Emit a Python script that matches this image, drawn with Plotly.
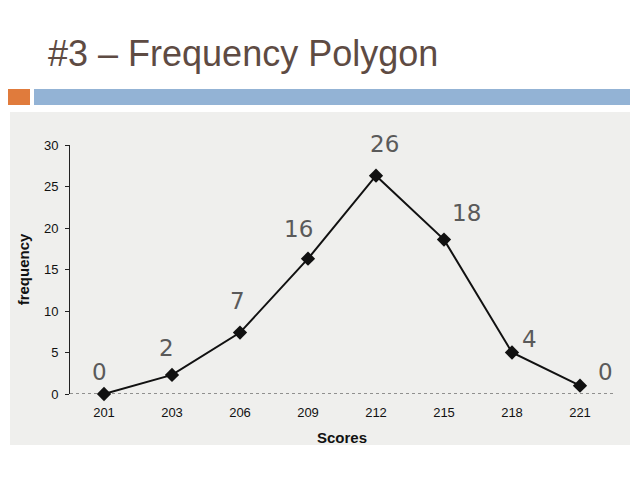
import plotly.graph_objects as go

# Data
scores = ["201", "203", "206", "209", "212", "215", "218", "221"]
frequency = [0, 2.3, 7.4, 16.3, 26.3, 18.6, 5.0, 1.0]
handwritten = ["0", "2", "7", "16", "26", "18", "4", "0"]
y_ticks = [0, 5, 10, 15, 20, 25, 30]

# the page body adds an 8px margin on top/left, so work in page pixels and shift
OFF = 8
W, H = 638 - OFF, 478 - OFF
L, R, T, B = 70 - OFF, 24, 145 - OFF, 84


def px_x(px):
    # page pixel -> paper fraction (x)
    return (px - OFF - L) / (W - L - R)


def px_y(py):
    # page pixel -> paper fraction (y)
    return (H - B - (py - OFF)) / (H - T - B)


fig = go.Figure()

fig.add_trace(go.Scatter(
    x=scores, y=frequency, mode="lines+markers",
    line=dict(color="#111111", width=2),
    marker=dict(symbol="diamond", size=11, color="#111111"),
    showlegend=False, cliponaxis=False,
))

# handwritten labels scribbled above the points
offsets = [(-5, 22), (-6, 27), (-3, 32), (-10, 30), (8, 32), (22, 27), (17, 14), (25, 14)]
for i, (f, txt, (dx, dy)) in enumerate(zip(frequency, handwritten, offsets)):
    fig.add_annotation(
        x=i, y=f, text=txt, showarrow=False, xshift=dx, yshift=dy,
        font=dict(family="DejaVu Sans", size=23, color="#5a5a5a"),
    )

shapes = [
    # scanned paper background
    dict(type="rect", xref="paper", yref="paper", layer="below",
         x0=px_x(10), x1=px_x(630), y0=px_y(445), y1=px_y(112),
         fillcolor="#efefed", line=dict(width=0)),
    # slide accent bars
    dict(type="rect", xref="paper", yref="paper",
         x0=px_x(0), x1=px_x(30), y0=px_y(105), y1=px_y(89),
         fillcolor="#e07b3c", line=dict(width=0)),
    dict(type="rect", xref="paper", yref="paper",
         x0=px_x(34), x1=px_x(646), y0=px_y(105), y1=px_y(89),
         fillcolor="#93b3d5", line=dict(width=0)),
    # dotted baseline
    dict(type="line", xref="paper", yref="y", layer="below",
         x0=0, x1=1, y0=0, y1=0,
         line=dict(color="#333333", width=1.2, dash="dot")),
]

fig.update_layout(
    width=W, height=H,
    margin=dict(l=L, r=R, t=T, b=B),
    paper_bgcolor="white", plot_bgcolor="rgba(0,0,0,0)",
    font=dict(family="Liberation Sans, Arial", color="#111111"),
    title=dict(
        text="#3 – Frequency Polygon",
        xref="container", yref="container",
        x=(48 - OFF) / W, y=1 - (53 - OFF) / H, xanchor="left", yanchor="middle",
        pad=dict(l=0, r=0, t=0, b=0),
        font=dict(family="Liberation Sans, Arial", size=36, color="#5e4b43"),
    ),
    shapes=shapes,
    xaxis=dict(
        type="category", range=[-0.5, 7.5], showgrid=False, zeroline=False,
        showline=False, ticks="", tickfont=dict(size=13, color="#111111"),
        ticklabelstandoff=9,
        title=dict(text="<b>Scores</b>", font=dict(size=15, color="#111111"), standoff=13),
    ),
    yaxis=dict(
        range=[0, 30], tickvals=y_ticks, showgrid=False, zeroline=False,
        showline=True, linecolor="#222222", linewidth=1,
        ticks="outside", ticklen=4, tickcolor="#222222",
        ticklabelstandoff=4,
        tickfont=dict(size=13, color="#111111"),
        title=dict(text="<b>frequency</b>", font=dict(size=15, color="#111111"), standoff=10),
    ),
)

fig.write_html("out.html")
